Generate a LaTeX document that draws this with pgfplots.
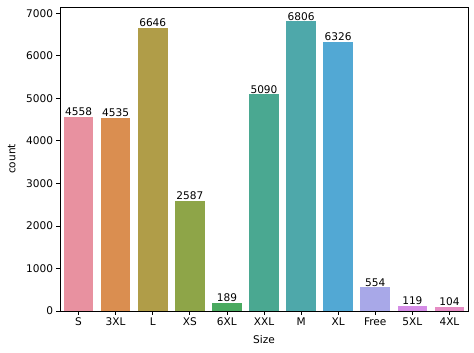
\documentclass[border=0pt]{standalone}
\usepackage{fontspec}
\setmainfont{DejaVu Sans}
\usepackage{pgfplots}
\pgfplotsset{compat=1.18}
\definecolor{c1}{HTML}{E891A0}
\definecolor{c2}{HTML}{DA8E50}
\definecolor{c3}{HTML}{B09D48}
\definecolor{c4}{HTML}{8EA548}
\definecolor{c5}{HTML}{4AAA60}
\definecolor{c6}{HTML}{4AA891}
\definecolor{c7}{HTML}{4EA8AA}
\definecolor{c8}{HTML}{52A8D4}
\definecolor{c9}{HTML}{A8A8E8}
\definecolor{c10}{HTML}{D48CE6}
\definecolor{c11}{HTML}{E68CC4}
\begin{document}
\begin{tikzpicture}
\begin{axis}[
  name=ax,
  scale only axis,
  width=408bp, height=304bp,
  xmin=-0.5, xmax=10.5,
  ymin=0, ymax=7146,
  xtick={0,1,2,3,4,5,6,7,8,9,10},
  xticklabels={S,3XL,L,XS,6XL,XXL,M,XL,Free,5XL,4XL},
  ytick={0,1000,2000,3000,4000,5000,6000,7000},
  tick align=outside,
  tick pos=left,
  major tick length=3.5bp,
  tick style={black, line width=0.8bp},
  axis line style={black, line width=0.8bp},
  ticklabel style={font=\fontsize{10.6}{12.7}\selectfont},
  /pgf/number format/1000 sep={},
  /pgf/number format/assume math mode=true,
  scaled y ticks=false,
  xlabel={Size}, ylabel={count},
  label style={font=\fontsize{10.6}{12.7}\selectfont},
  xlabel style={at={(axis description cs:0.5,-0.095)}, anchor=center},
  ylabel style={at={(axis description cs:-0.118,0.5)}, anchor=center},
  ybar, bar width=0.8, bar shift=0pt,
  nodes near coords,
  point meta=y,
  nodes near coords style={font=\fontsize{10.6}{12.7}\selectfont, inner sep=1bp, /pgf/number format/1000 sep={}, /pgf/number format/assume math mode=true},
  every axis plot/.append style={draw=none},
]
\addplot[fill=c1] coordinates {(0,4558)};
\addplot[fill=c2] coordinates {(1,4535)};
\addplot[fill=c3] coordinates {(2,6646)};
\addplot[fill=c4] coordinates {(3,2587)};
\addplot[fill=c5] coordinates {(4,189)};
\addplot[fill=c6] coordinates {(5,5090)};
\addplot[fill=c7] coordinates {(6,6806)};
\addplot[fill=c8] coordinates {(7,6326)};
\addplot[fill=c9] coordinates {(8,554)};
\addplot[fill=c10] coordinates {(9,119)};
\addplot[fill=c11] coordinates {(10,104)};
\end{axis}
\path ([xshift=-60bp,yshift=-42bp]ax.south west) rectangle ([xshift=6bp,yshift=7bp]ax.north east);
\end{tikzpicture}
\end{document}
